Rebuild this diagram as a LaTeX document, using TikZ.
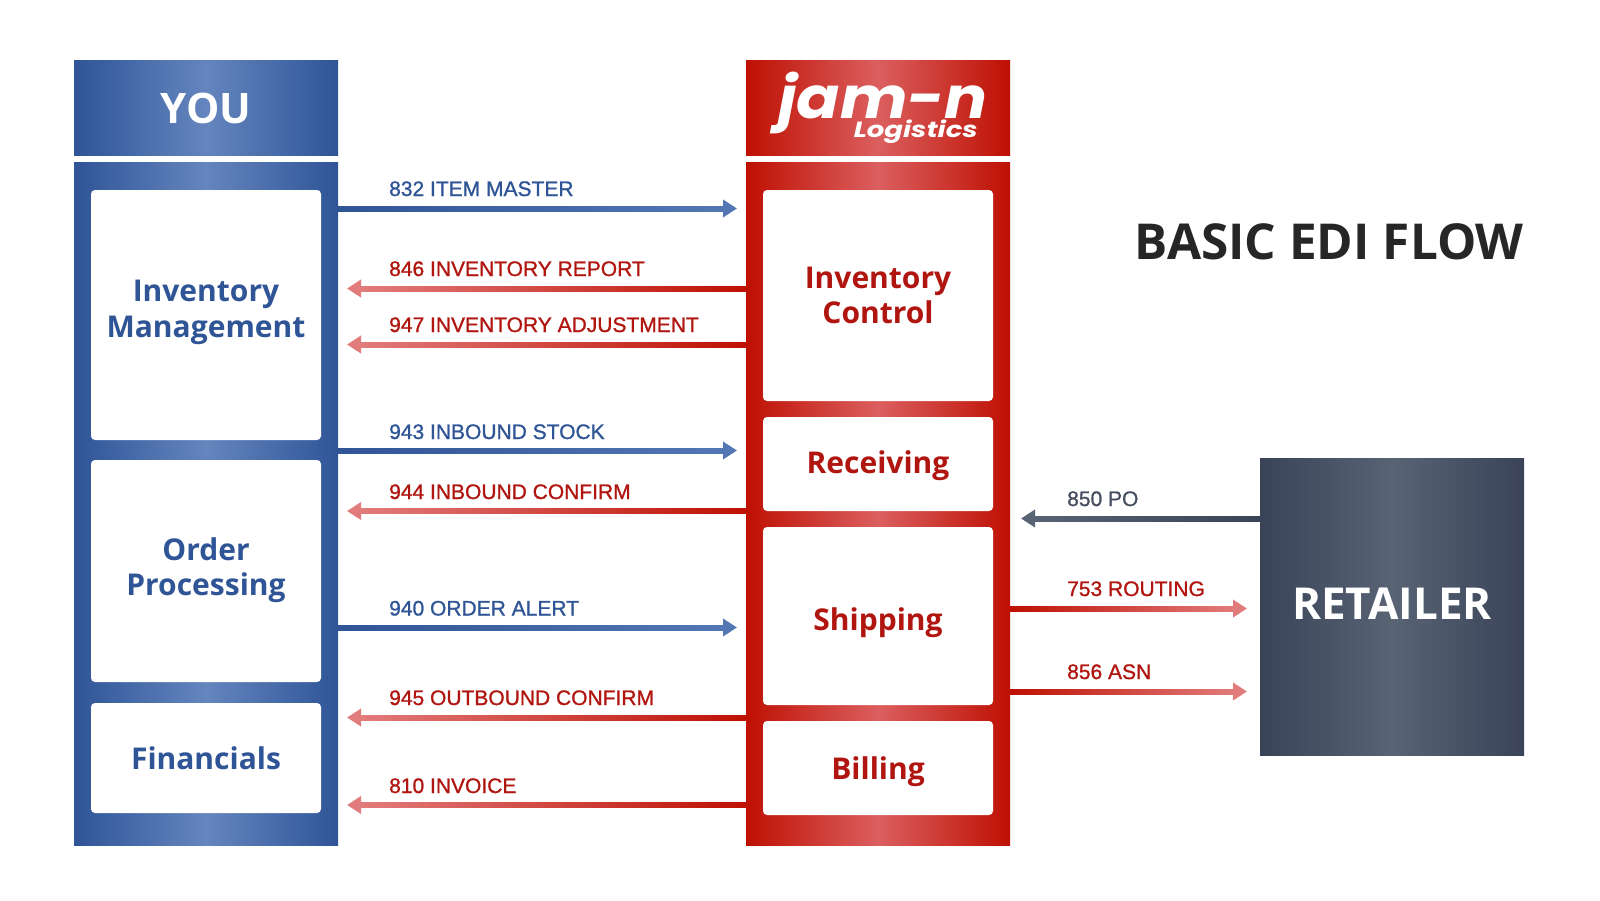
\documentclass[tikz,border=0pt]{standalone}
\usepackage{fontspec}
\setmainfont{Open Sans}
\newfontfamily\labelfont[FakeBold=1]{Liberation Sans}
\newfontfamily\logofont[FakeStretch=1.1]{Poppins}
\newfontfamily\logosmall[FakeStretch=1.25]{Poppins}
\usetikzlibrary{arrows.meta,calc}

\definecolor{youdark}{HTML}{2F5597}
\definecolor{youlight}{HTML}{6485BE}
\definecolor{youtip}{HTML}{5277B3}
\definecolor{jamdark}{HTML}{BE1002}
\definecolor{jamlight}{HTML}{DB5F5F}
\definecolor{jamtip}{HTML}{E27C7C}
\definecolor{jamtext}{HTML}{B0150F}
\definecolor{shopdark}{HTML}{3A4358}
\definecolor{shoplight}{HTML}{586374}
\definecolor{shoptext}{HTML}{454E5E}

\tikzset{
  youcol/.style={rectangle, left color=youdark, right color=youdark, middle color=youlight,
    minimum width=264pt, inner sep=0pt, text=white},
  jamcol/.style={rectangle, left color=jamdark, right color=jamdark, middle color=jamlight,
    minimum width=264pt, inner sep=0pt, text=white},
  youbox/.style={rectangle, rounded corners=4pt, fill=white, minimum width=230pt,
    inner sep=0pt, align=center, text=youdark, text depth=0pt,
    font=\fontsize{30}{35.5}\selectfont\bfseries},
  jambox/.style={rectangle, rounded corners=4pt, fill=white, minimum width=230pt,
    inner sep=0pt, align=center, text=jamtext, text depth=0pt,
    font=\fontsize{30}{35.5}\selectfont\bfseries},
  flowlabel/.style={anchor=base west, inner sep=0pt, font=\labelfont\fontsize{21}{26}\selectfont},
  flowtip/.style={line width=5pt, -{Triangle[length=14pt,width=17pt]}},
}

% shaft of a connector, fading from #3 to #4
\newcommand{\fadeshaft}[4]{%
  \shade[left color=#3, right color=#4, middle color=#3!50!#4]
    ($(#1)+(0,-2.5)$) rectangle ($(#2)+(0,2.5)$);}

\begin{document}
\begin{tikzpicture}[x=1pt, y=-1pt]

    \useasboundingbox[fill=white] (0,0) rectangle (1600,900);

    \node[youcol, minimum height=95pt] (youhead) at (206,107.5) {};
    \node[youcol, minimum height=683pt] (youbody) at (206,503.5) {};
    \node[jamcol, minimum height=95pt] (jamhead) at (878,107.5) {};
    \node[jamcol, minimum height=683pt] (jambody) at (878,503.5) {};

    \node[text=white, font=\fontsize{42}{42}\selectfont\bfseries] (you) at (206,108) {YOU};
    \node[text=white, anchor=base east, inner sep=0pt,
      font=\logofont\fontsize{58}{58}\selectfont\bfseries\itshape] (jam) at (988,118) {jam-n};
    \node[text=white, anchor=base east, inner sep=0pt,
      font=\logosmall\fontsize{22}{22}\selectfont\bfseries\itshape] (logistics) at (978,137) {Logistics};

    \node[youbox, minimum height=250pt] (inv) at (206,315) {Inventory\\Management\\[-23pt]\mbox{}};
    \node[youbox, minimum height=222pt] (order) at (206,571) {Order\\Processing\\[-27pt]\mbox{}};
    \node[youbox, minimum height=110pt] (fin) at (206,758) {Financials};

    \node[jambox, minimum height=211pt] (ctrl) at (878,295.5) {Inventory\\Control};
    \node[jambox, minimum height=94pt, text depth=4pt] (recv) at (878,464) {Receiving};
    \node[jambox, minimum height=178pt, text height=29pt] (ship) at (878,616) {Shipping};
    \node[jambox, minimum height=94pt] (bill) at (878,768) {Billing};

    \node[rectangle, left color=shopdark, right color=shopdark, middle color=shoplight,
      minimum width=264pt, minimum height=297pt, inner sep=0pt, text=white, text depth=6pt,
      font=\fontsize{44}{44}\selectfont\bfseries] (shop) at (1392,606.5) {RETAILER};

    \node[text=black!85, anchor=base east, inner sep=0pt,
      font=\fontsize{49.5}{50}\selectfont\bfseries] (title) at (1524,259) {BASIC EDI FLOW};

    \coordinate (c832) at (737,208.5);
    \coordinate (c846) at (347,288.5);
    \coordinate (c947) at (347,344.5);
    \coordinate (c943) at (737,450.5);
    \coordinate (c944) at (347,511);
    \coordinate (c940) at (737,627.5);
    \coordinate (c945) at (347,717.5);
    \coordinate (c810) at (347,805);
    \coordinate (c850) at (1021,518.5);
    \coordinate (c753) at (1247,608.5);
    \coordinate (c856) at (1247,691.5);

    \draw[flowtip, youtip] (youbody.east |- c832) -- (c832);
    \draw[flowtip, jamtip] (jambody.west |- c846) -- (c846);
    \draw[flowtip, jamtip] (jambody.west |- c947) -- (c947);
    \draw[flowtip, youtip] (youbody.east |- c943) -- (c943);
    \draw[flowtip, jamtip] (jambody.west |- c944) -- (c944);
    \draw[flowtip, youtip] (youbody.east |- c940) -- (c940);
    \draw[flowtip, jamtip] (jambody.west |- c945) -- (c945);
    \draw[flowtip, jamtip] (jambody.west |- c810) -- (c810);
    \draw[flowtip, shoplight] (shop.west |- c850) -- (c850);
    \draw[flowtip, jamtip] (jambody.east |- c753) -- (c753);
    \draw[flowtip, jamtip] (jambody.east |- c856) -- (c856);

    \fadeshaft{youbody.east |- c832}{$(c832)+(-12,0)$}{youdark}{youtip}
    \fadeshaft{$(c846)+(12,0)$}{jambody.west |- c846}{jamtip}{jamdark}
    \fadeshaft{$(c947)+(12,0)$}{jambody.west |- c947}{jamtip}{jamdark}
    \fadeshaft{youbody.east |- c943}{$(c943)+(-12,0)$}{youdark}{youtip}
    \fadeshaft{$(c944)+(12,0)$}{jambody.west |- c944}{jamtip}{jamdark}
    \fadeshaft{youbody.east |- c940}{$(c940)+(-12,0)$}{youdark}{youtip}
    \fadeshaft{$(c945)+(12,0)$}{jambody.west |- c945}{jamtip}{jamdark}
    \fadeshaft{$(c810)+(12,0)$}{jambody.west |- c810}{jamtip}{jamdark}
    \fadeshaft{$(c850)+(12,0)$}{shop.west |- c850}{shoplight}{shopdark}
    \fadeshaft{jambody.east |- c753}{$(c753)+(-12,0)$}{jamdark}{jamtip}
    \fadeshaft{jambody.east |- c856}{$(c856)+(-12,0)$}{jamdark}{jamtip}

    \node[flowlabel, text=youdark] (l832) at (389,196) {832 ITEM MASTER};
    \node[flowlabel, text=jamtext] (l846) at (389,276) {846 INVENTORY REPORT};
    \node[flowlabel, text=jamtext] (l947) at (389,332) {947 INVENTORY ADJUSTMENT};
    \node[flowlabel, text=youdark] (l943) at (389,439) {943 INBOUND STOCK};
    \node[flowlabel, text=jamtext] (l944) at (389,499) {944 INBOUND CONFIRM};
    \node[flowlabel, text=youdark] (l940) at (389,615.5) {940 ORDER ALERT};
    \node[flowlabel, text=jamtext] (l945) at (389,705) {945 OUTBOUND CONFIRM};
    \node[flowlabel, text=jamtext] (l810) at (389,793) {810 INVOICE};
    \node[flowlabel, text=shoptext] (l850) at (1067,506) {850 PO};
    \node[flowlabel, text=jamtext] (l753) at (1067,596) {753 ROUTING};
    \node[flowlabel, text=jamtext] (l856) at (1067,679) {856 ASN};

\end{tikzpicture}
\end{document}
